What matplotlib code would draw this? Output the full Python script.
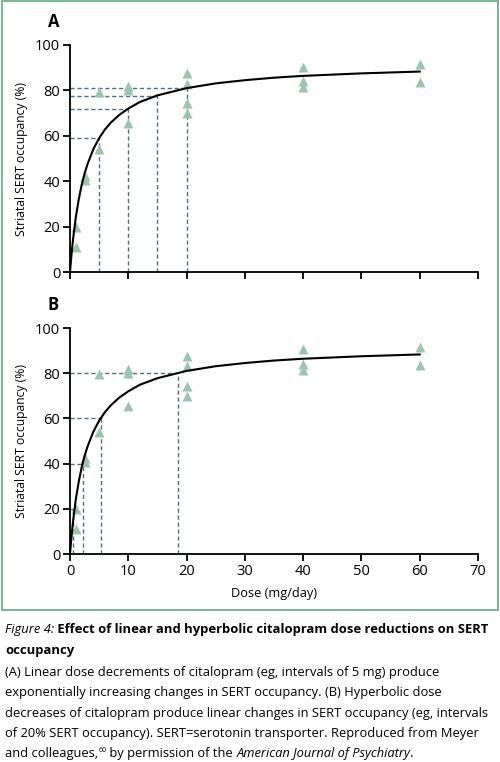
import matplotlib
matplotlib.use("Agg")
import matplotlib.pyplot as plt
from matplotlib.patches import Rectangle

plt.rcParams['font.family'] = ['Open Sans', 'DejaVu Sans']

# fitted occupancy curve
curve_dose = [0, 0.25, 0.5, 1, 1.5, 2, 2.5, 3, 4, 5, 6, 7, 8.5, 10, 12, 15, 20, 25, 30, 35, 40, 50, 60]
curve_occ = [0, 7.5, 13.9, 24.2, 32, 38.3, 43.4, 47.5, 54.1, 59, 62.8, 65.8, 69.3, 72, 74.9, 77.8, 81, 83.1, 84.5, 85.6, 86.4, 87.5, 88.3]

# measured points
pt_dose = [1, 1, 2.5, 2.5, 5, 5, 10, 10, 10, 20, 20, 20, 20, 40, 40, 40, 60, 60]
pt_occ = [20, 11, 42.5, 40.5, 79.5, 54, 82, 80, 65.5, 87.5, 83, 74.5, 70, 90.5, 84, 81.5, 91.5, 83.5]

# panel A: linear dose steps
stepA_dose = [5, 10, 15, 20]
stepA_occ = [59, 72, 77.5, 81]
# panel B: steps of 20% occupancy
stepB_dose = [0.6, 2.3, 5.3, 18.5]
stepB_occ = [20, 40, 60, 80]

W, H = 500, 762
fig = plt.figure(figsize=(W / 100, H / 100), dpi=100)

def px(x, y):
    return x / W, 1 - y / H

green = '#9cc5b0'
dash_col = '#4f6d80'

def panel(rect, letter, sd, so, xlabels):
    ax = fig.add_axes(rect)
    ax.set_xlim(0, 70)
    ax.set_ylim(0, 100)
    for d, o in zip(sd, so):
        ax.plot([0, d], [o, o], ls=(0, (3, 2)), lw=1, color=dash_col, zorder=1)
        ax.plot([d, d], [0, o], ls=(0, (3, 2)), lw=1, color=dash_col, zorder=1)
    ax.plot(pt_dose, pt_occ, ls='none', marker='^', ms=7.3, color=green, mec='none', zorder=2, clip_on=False)
    ax.plot(curve_dose, curve_occ, color='black', lw=1.5, zorder=3, clip_on=False)
    ax.spines['top'].set_visible(False)
    ax.spines['right'].set_visible(False)
    ax.spines['left'].set_linewidth(1.3)
    ax.spines['bottom'].set_linewidth(1.3)
    ax.set_xticks(range(0, 71, 10))
    ax.set_yticks(range(0, 101, 20))
    ax.tick_params(direction='out', length=5, width=1.3, labelsize=10.5, colors='black', pad=2)
    if not xlabels:
        ax.set_xticklabels([])
    ax.set_ylabel('Striatal SERT occupancy (%)', fontsize=8.7, labelpad=5)
    ax.text(-0.054, 1.10, letter, transform=ax.transAxes, fontsize=12, fontweight='bold',
            ha='left', va='center')
    return ax

axA = panel([0.14, 1 - 272 / H, 0.816, 227 / H], 'A', stepA_dose, stepA_occ, False)
axB = panel([0.14, 1 - 554 / H, 0.816, 226 / H], 'B', stepB_dose, stepB_occ, True)
axB.set_xlabel('Dose (mg/day)', fontsize=9.2, labelpad=6)

# green frame around the chart
fig.patches.append(Rectangle(px(2, 610), 496 / W, 609 / H, transform=fig.transFigure,
                             fill=False, edgecolor='#7fb899', lw=1.5))

# caption with mixed styles
renderer = fig.canvas.get_renderer()

def run_line(y, runs, x0=5, size=9.25):
    x = x0
    for txt, style, weight in runs:
        fs = size
        yy = y
        if style == 'sup':
            fs = size * 0.55
            yy = y - 5
            style = 'normal'
        t = fig.text(*px(x, yy), txt, fontsize=fs, style=style, fontweight=weight,
                     ha='left', va='baseline')
        bb = t.get_window_extent(renderer)
        x = bb.x1

run_line(633, [('Figure 4:', 'italic', 'normal'),
               (' Effect of linear and hyperbolic citalopram dose reductions on SERT', 'normal', 'bold')],
         size=9.35)
run_line(654, [('occupancy', 'normal', 'bold')], size=9.35)
run_line(676, [('(A) Linear dose decrements of citalopram (eg, intervals of 5 mg) produce', 'normal', 'normal')])
run_line(696, [('exponentially increasing changes in SERT occupancy. (B) Hyperbolic dose', 'normal', 'normal')])
run_line(717, [('decreases of citalopram produce linear changes in SERT occupancy (eg, intervals', 'normal', 'normal')])
run_line(737, [('of 20% SERT occupancy). SERT=serotonin transporter. Reproduced from Meyer', 'normal', 'normal')])
run_line(757, [('and colleagues,', 'normal', 'normal'), ('60', 'sup', 'normal'),
               (' by permission of the ', 'normal', 'normal'),
               ('American Journal of Psychiatry', 'italic', 'normal'), ('.', 'normal', 'normal')])

fig.savefig('out.png', dpi=100)
